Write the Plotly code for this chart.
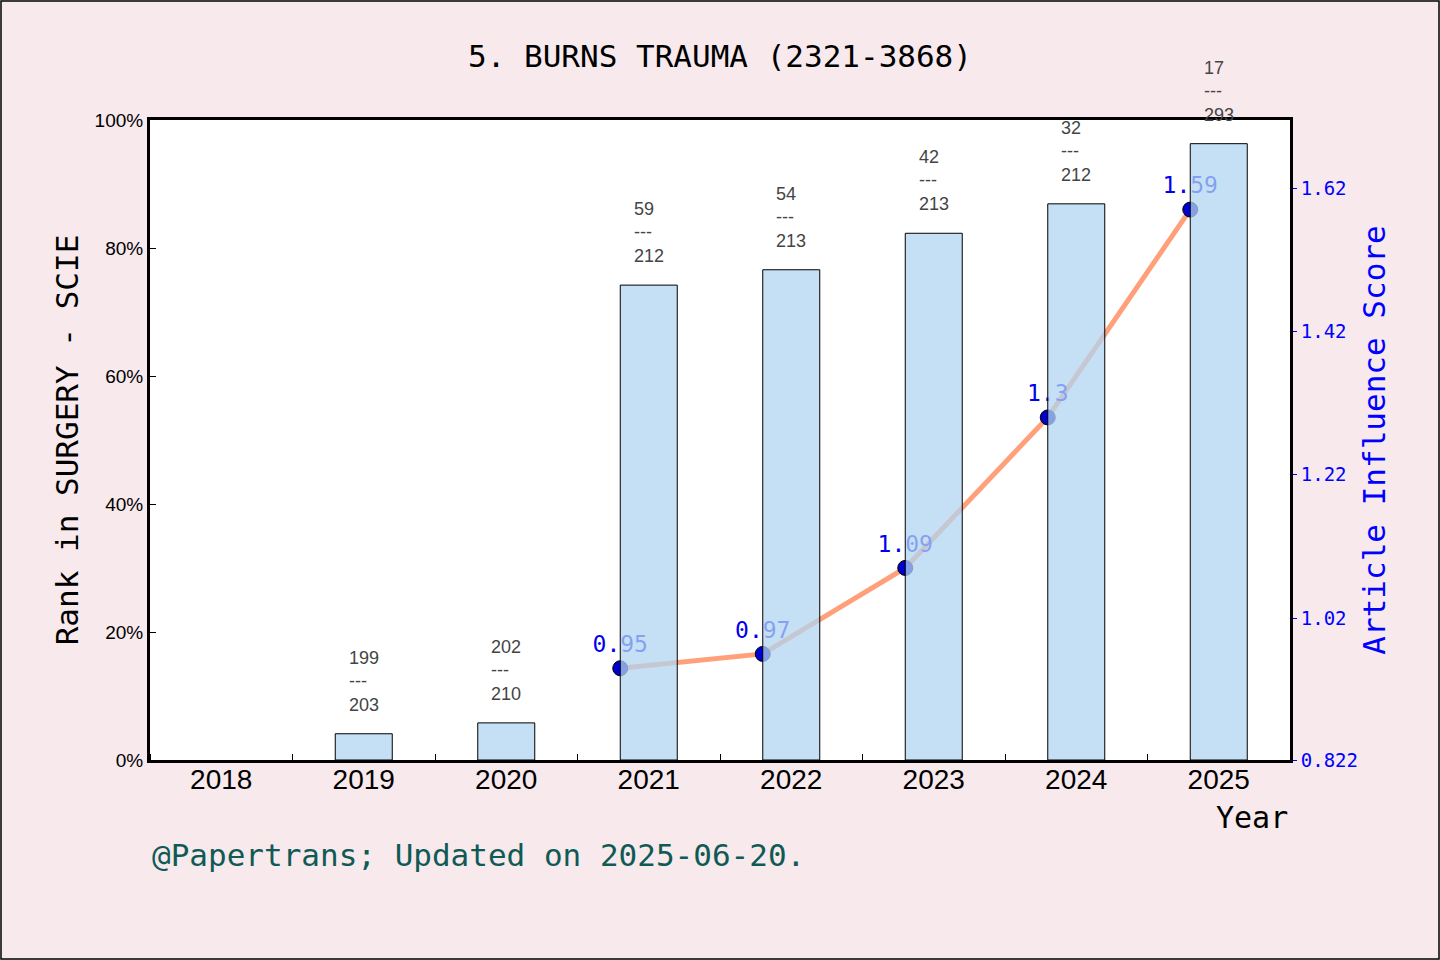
"""BURNS TRAUMA — rank percentile bars + Article Influence Score line."""
import plotly.graph_objects as go

years = ["2018", "2019", "2020", "2021", "2022", "2023", "2024", "2025"]
rank_pct = [None, 4.1, 5.8, 74.2, 76.6, 82.3, 86.9, 96.3]
rank = [None, 199, 202, 59, 54, 42, 32, 17]
total = [None, 203, 210, 212, 213, 213, 212, 293]
ais = [None, None, None, 0.95, 0.97, 1.09, 1.30, 1.59]
ais_ticks = [0.822, 1.02, 1.22, 1.42, 1.62]

_BG = "#f7e9ec"
_MONO = "DejaVu Sans Mono"
_SANS = "Liberation Sans"

W, H = 1440, 960
M = dict(l=150, r=150, t=120, b=200)
BAR_W = 0.4

idx = list(range(len(years)))
# the score points sit on the left edge of each bar
line_x = [i - BAR_W / 2 for i in idx]

fig = go.Figure()

# line first, on the main y axis, so the semi-transparent bars sit on top of it
fig.add_trace(go.Scatter(
    x=line_x,
    y=ais,
    mode="lines+markers+text",
    line=dict(color="#ffa07a", width=5),
    marker=dict(size=15, color="#0000cd", line=dict(color="black", width=1)),
    text=[f"{v:g}" if v is not None else "" for v in ais],
    textposition="top center",
    textfont=dict(family=_MONO, size=23, color="#0000ee"),
    yaxis="y",
    showlegend=False,
    cliponaxis=False,
))

fig.add_trace(go.Bar(
    x=idx,
    y=rank_pct,
    width=BAR_W,
    marker=dict(color="rgba(178,214,242,0.75)", line=dict(color="black", width=1)),
    yaxis="y2",
    showlegend=False,
))

for i, p, r, t in zip(idx, rank_pct, rank, total):
    if p is None:
        continue
    fig.add_annotation(
        x=i, y=p, xref="x", yref="y2",
        text=f"{r}<br>---<br>{t}",
        showarrow=False, yanchor="bottom", yshift=17, align="left",
        font=dict(family=_SANS, size=18, color="#444444"),
    )

fig.add_annotation(
    x=1, y=0, xref="paper", yref="paper", xanchor="right", yanchor="middle",
    yshift=-57, text="Year", showarrow=False,
    font=dict(family=_MONO, size=30, color="black"),
)
fig.add_annotation(
    x=0, y=0, xref="paper", yref="paper", xanchor="left", yanchor="middle",
    yshift=-95, text="@Papertrans; Updated on 2025-06-20.", showarrow=False,
    font=dict(family=_MONO, size=31, color="#0f5a55"),
)

pw = W - M["l"] - M["r"]
ph = H - M["t"] - M["b"]
fig.add_shape(
    type="rect", xref="paper", yref="paper",
    x0=-(M["l"] - 1) / pw, x1=1 + (M["r"] - 1) / pw,
    y0=-(M["b"] - 1) / ph, y1=1 + (M["t"] - 1) / ph,
    line=dict(color="black", width=1.5),
)

fig.update_layout(
    width=W, height=H,
    margin=M,
    paper_bgcolor=_BG,
    plot_bgcolor="white",
    title=dict(
        text="5. BURNS TRAUMA (2321-3868)",
        x=0.5, xanchor="center", y=1 - 56 / H, yanchor="middle",
        font=dict(family=_MONO, size=31, color="black"),
    ),
    xaxis=dict(
        range=[-0.5, 7.5],
        tickvals=idx, ticktext=years, ticks="",
        ticklabelstandoff=-8,
        minor=dict(ticks="inside", ticklen=6, tickcolor="black",
                   tick0=-0.5, dtick=1, showgrid=False),
        showline=True, linewidth=3, linecolor="black", mirror=True,
        tickfont=dict(family=_SANS, size=28, color="black"),
        showgrid=False, zeroline=False,
    ),
    yaxis=dict(
        side="right",
        range=[0.822, 1.715],
        tickvals=ais_ticks, ticktext=[f"{v:g}" for v in ais_ticks],
        ticks="outside", ticklen=4, tickcolor="blue",
        tickfont=dict(family=_MONO, size=19, color="blue"),
        title=dict(text="Article Influence Score", standoff=7,
                   font=dict(family=_MONO, size=31, color="blue")),
        showline=True, linewidth=3, linecolor="black",
        showgrid=False, zeroline=False,
    ),
    yaxis2=dict(
        side="left", overlaying="y",
        range=[0, 100], dtick=20, ticksuffix="%",
        ticks="inside", ticklen=6, tickcolor="black",
        tickfont=dict(family=_SANS, size=19, color="black"),
        title=dict(text="Rank in SURGERY - SCIE", standoff=7,
                   font=dict(family=_MONO, size=31, color="black")),
        showline=True, linewidth=3, linecolor="black",
        showgrid=False, zeroline=False,
    ),
)

fig.write_html(
    "out.html",
    config={"displayModeBar": False},
    post_script="document.body.style.margin='0';",
)
